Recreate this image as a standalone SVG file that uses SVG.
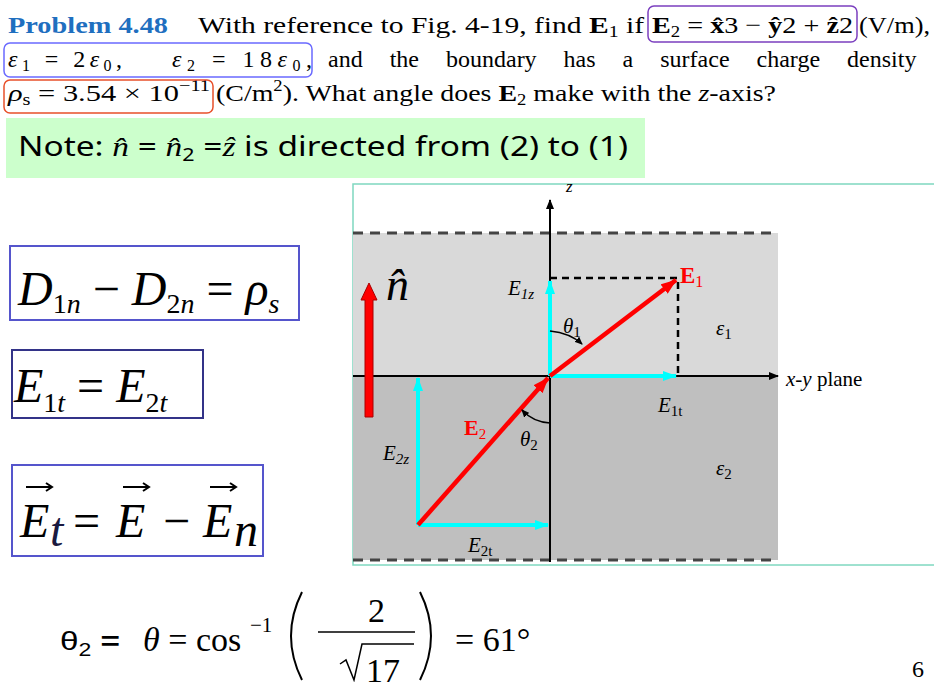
<svg xmlns="http://www.w3.org/2000/svg" width="934" height="682" viewBox="0 0 934 682">
<style>
.s{font-family:"Liberation Serif",serif;fill:#000}
.i{font-style:italic}
.b{font-weight:bold}
.lbl{font-family:"Liberation Serif",serif;font-size:21px;font-style:italic}
.red{fill:#ff0000}
.cy{stroke:#00ffff;stroke-width:4;fill:none}
.eq{font-family:"Liberation Serif",serif;font-style:italic;font-size:48px}
</style>
<defs>
<marker id="ab" markerWidth="10" markerHeight="8" refX="9" refY="4" orient="auto" markerUnits="userSpaceOnUse"><path d="M0,0 L10,4 L0,8 Z" fill="#000"/></marker>
<marker id="ac" markerWidth="14" markerHeight="10" refX="13" refY="5" orient="auto" markerUnits="userSpaceOnUse"><path d="M0,0 L14,5 L0,10 Z" fill="#00ffff"/></marker>
<marker id="ar" markerWidth="16" markerHeight="12" refX="15" refY="6" orient="auto" markerUnits="userSpaceOnUse"><path d="M0,0 L16,6 L0,12 Z" fill="#ff0000"/></marker>
<marker id="aa" markerWidth="8" markerHeight="7" refX="7" refY="3.5" orient="auto" markerUnits="userSpaceOnUse"><path d="M0,0 L8,3.5 L0,7 Z" fill="#000"/></marker>
</defs>
<rect width="934" height="682" fill="#fff"/>
<g id="header">
<text class="s b" x="8" y="33" font-size="24" style="fill:#1f6fbf" textLength="160" lengthAdjust="spacingAndGlyphs">Problem 4.48</text>
<text class="s" x="198" y="33" font-size="24" textLength="446" lengthAdjust="spacingAndGlyphs">With reference to Fig. 4-19, find <tspan class="b">E</tspan><tspan font-size="16" dy="4">1</tspan><tspan dy="-4"> if</tspan></text>
<text class="s" x="652" y="33" font-size="24" textLength="201" lengthAdjust="spacingAndGlyphs"><tspan class="b">E</tspan><tspan font-size="16" dy="4">2</tspan><tspan dy="-4"> = </tspan><tspan class="b">x̂</tspan>3 − <tspan class="b">ŷ</tspan>2 + <tspan class="b">ẑ</tspan>2</text>
<text class="s" x="859" y="33" font-size="24" textLength="71" lengthAdjust="spacingAndGlyphs">(V/m),</text>
<text class="s" x="8" y="67" font-size="24" textLength="114" lengthAdjust="spacing"><tspan class="i">ε</tspan><tspan font-size="16" dy="4">1</tspan><tspan dy="-4"> = 2</tspan><tspan class="i">ε</tspan><tspan font-size="16" dy="4">0</tspan><tspan dy="-4">,</tspan></text>
<text class="s" x="172" y="67" font-size="24" textLength="140" lengthAdjust="spacing"><tspan class="i">ε</tspan><tspan font-size="16" dy="4">2</tspan><tspan dy="-4"> = 18</tspan><tspan class="i">ε</tspan><tspan font-size="16" dy="4">0</tspan><tspan dy="-4">,</tspan></text>
<text class="s" x="328" y="67" font-size="24" word-spacing="21">and the boundary has a surface charge density</text>
<text class="s" x="8" y="101" font-size="24" textLength="202" lengthAdjust="spacingAndGlyphs"><tspan class="i">ρ</tspan><tspan font-size="16" dy="4">s</tspan><tspan dy="-4"> = 3.54 × 10</tspan><tspan font-size="16" dy="-10">−11</tspan></text>
<text class="s" x="216" y="101" font-size="24" textLength="560" lengthAdjust="spacingAndGlyphs">(C/m<tspan font-size="16" dy="-10">2</tspan><tspan dy="10">). What angle does </tspan><tspan class="b">E</tspan><tspan font-size="16" dy="4">2</tspan><tspan dy="-4"> make with the </tspan><tspan class="i">z</tspan>-axis?</text>
<rect x="648" y="6" width="209" height="36" rx="6" fill="none" stroke="#7b3fbf" stroke-width="1.5"/>
<rect x="4" y="43" width="308" height="34" rx="6" fill="none" stroke="#6a6aff" stroke-width="1.5"/>
<rect x="4" y="80" width="209" height="33" rx="6" fill="none" stroke="#e8502a" stroke-width="1.5"/>
</g>
<g id="note">
<rect x="6" y="118" width="639" height="60" fill="#ccffcc"/>
<text x="18" y="156" font-family="Noto Sans,sans-serif" font-size="28" textLength="610" lengthAdjust="spacingAndGlyphs">Note:   <tspan font-family="Liberation Serif,serif" font-style="italic">n̂</tspan> = <tspan font-family="Liberation Serif,serif" font-style="italic">n̂</tspan><tspan font-size="18" dy="5">2</tspan><tspan dy="-5"> =</tspan><tspan font-family="Liberation Serif,serif" font-style="italic">ẑ</tspan>   is directed from (2) to (1)</text>
</g>
<g id="eq1"><rect x="10" y="246" width="289" height="74" fill="#fff" stroke="#5555cc" stroke-width="2"/>
<text class="eq" x="18" y="305">D<tspan font-size="28" font-style="normal" dy="8">1</tspan><tspan font-size="28">n</tspan><tspan font-style="normal" dy="-8"> − </tspan>D<tspan font-size="28" font-style="normal" dy="8">2</tspan><tspan font-size="28">n</tspan><tspan font-style="normal" dy="-8"> = </tspan>ρ<tspan font-size="28" dy="8">s</tspan></text></g>
<g id="eq2"><rect x="12" y="350" width="191" height="68" fill="#fff" stroke="#333388" stroke-width="2"/>
<text class="eq" x="14" y="402">E<tspan font-size="28" font-style="normal" dy="10">1</tspan><tspan font-size="28">t</tspan><tspan font-style="normal" dy="-10"> = </tspan>E<tspan font-size="28" font-style="normal" dy="10">2</tspan><tspan font-size="28">t</tspan></text></g>
<g id="eq3"><rect x="12" y="465" width="251" height="91" fill="#fff" stroke="#5555cc" stroke-width="2"/>
<text class="eq" x="20" y="537">E</text><text class="eq" x="50" y="546" font-size="28" fill="#1a1a40">t</text>
<text class="eq" x="70" y="537" font-style="normal">=</text>
<text class="eq" x="116" y="537">E</text>
<text class="eq" x="160" y="537" font-style="normal">−</text>
<text class="eq" x="203" y="537">E</text><text class="eq" x="234" y="546" font-size="28">n</text>
<g stroke="#000" stroke-width="2" fill="none"><path d="M26,487 H52 M46,483 L52,487 L46,491"/><path d="M123,487 H149 M143,483 L149,487 L143,491"/><path d="M210,487 H236 M230,483 L236,487 L230,491"/></g></g>
<g id="figure">
<rect x="353" y="184" width="590" height="381" fill="#fff" stroke="#7fd8c0" stroke-width="1.5"/>
<rect x="353" y="233" width="425" height="143" fill="#d9d9d9"/>
<rect x="353" y="376" width="425" height="184" fill="#bfbfbf"/>
<line x1="353" y1="233" x2="778" y2="233" stroke="#444" stroke-width="3" stroke-dasharray="10,7"/>
<line x1="353" y1="560" x2="778" y2="560" stroke="#444" stroke-width="3" stroke-dasharray="10,7"/>
</g>
<g id="connectors">
<line x1="353" y1="376" x2="778" y2="376" stroke="#000" stroke-width="2" marker-end="url(#ab)"/>
<line x1="550" y1="562" x2="550" y2="200" stroke="#000" stroke-width="2" marker-end="url(#ab)"/>
<path d="M550,278 H678 V376" fill="none" stroke="#000" stroke-width="2.5" stroke-dasharray="7,5"/>
<line class="cy" x1="550" y1="376" x2="550" y2="281" marker-end="url(#ac)"/>
<line class="cy" x1="550" y1="376" x2="676" y2="376" marker-end="url(#ac)"/>
<line class="cy" x1="418" y1="525" x2="418" y2="378" marker-end="url(#ac)"/>
<line class="cy" x1="418" y1="525" x2="548" y2="525" marker-end="url(#ac)"/>
<line x1="550" y1="376" x2="676" y2="280" stroke="#ff0000" stroke-width="4.5" marker-end="url(#ar)"/>
<line x1="418" y1="525" x2="548" y2="378" stroke="#ff0000" stroke-width="4.5" marker-end="url(#ar)"/>
<path d="M550,331 Q570,333 582,344" fill="none" stroke="#000" stroke-width="1.5" marker-end="url(#aa)"/>
<path d="M550,423 Q533,422 522,410" fill="none" stroke="#000" stroke-width="1.5" marker-end="url(#aa)"/>
<path d="M365,417 V300 H361 L369,283 L377,300 H373 V417 Z" fill="#ff0000" stroke="#a00" stroke-width="1"/>
</g>
<g id="labels">
<text class="s i" x="566" y="192" font-size="17">z</text>
<text class="s i" x="386" y="300" font-size="46">n̂</text>
<text class="s b red" x="680" y="283" font-size="23">E<tspan font-size="16" font-weight="normal" dy="4">1</tspan></text>
<text class="lbl" x="508" y="295">E<tspan font-size="15" dy="4">1z</tspan></text>
<text class="lbl" x="563" y="333">θ<tspan font-size="15" font-style="normal" dy="4">1</tspan></text>
<text class="lbl" x="716" y="335">ε<tspan font-size="15" font-style="normal" dy="4">1</tspan></text>
<text class="s" x="786" y="386" font-size="21"><tspan class="i">x</tspan>-<tspan class="i">y</tspan> plane</text>
<text class="lbl" x="658" y="412">E<tspan font-size="15" font-style="normal" dy="4">1t</tspan></text>
<text class="s b red" x="464" y="435" font-size="22">E<tspan font-size="15" font-weight="normal" dy="4">2</tspan></text>
<text class="lbl" x="520" y="446">θ<tspan font-size="15" font-style="normal" dy="4">2</tspan></text>
<text class="lbl" x="383" y="460">E<tspan font-size="15" dy="4">2z</tspan></text>
<text class="lbl" x="716" y="475">ε<tspan font-size="15" font-style="normal" dy="4">2</tspan></text>
<text class="lbl" x="468" y="552">E<tspan font-size="15" font-style="normal" dy="4">2t</tspan></text>
</g>
<g id="result">
<text x="60" y="650" font-family="Liberation Sans,sans-serif" font-size="26" textLength="60" lengthAdjust="spacingAndGlyphs">θ<tspan font-size="18" dy="6">2</tspan><tspan dy="-6" font-weight="bold"> =</tspan></text>
<text class="s" x="143" y="651" font-size="34"><tspan class="i">θ</tspan> = cos</text>
<text class="s" x="250" y="632" font-size="21">−1</text>
<path d="M302,592 Q280,636 302,680" fill="none" stroke="#000" stroke-width="2"/>
<path d="M420,592 Q442,636 420,680" fill="none" stroke="#000" stroke-width="2"/>
<text class="s" x="368" y="622" font-size="34">2</text>
<line x1="318" y1="632" x2="415" y2="632" stroke="#000" stroke-width="1.5"/>
<path d="M340,664 L346,660 L354,680 L362,644 H414" fill="none" stroke="#000" stroke-width="1.5"/>
<text class="s" x="366" y="682" font-size="34">17</text>
<text class="s" x="455" y="651" font-size="34">= 61°</text>
<text class="s" x="912" y="677" font-size="24">6</text>
</g>
</svg>
